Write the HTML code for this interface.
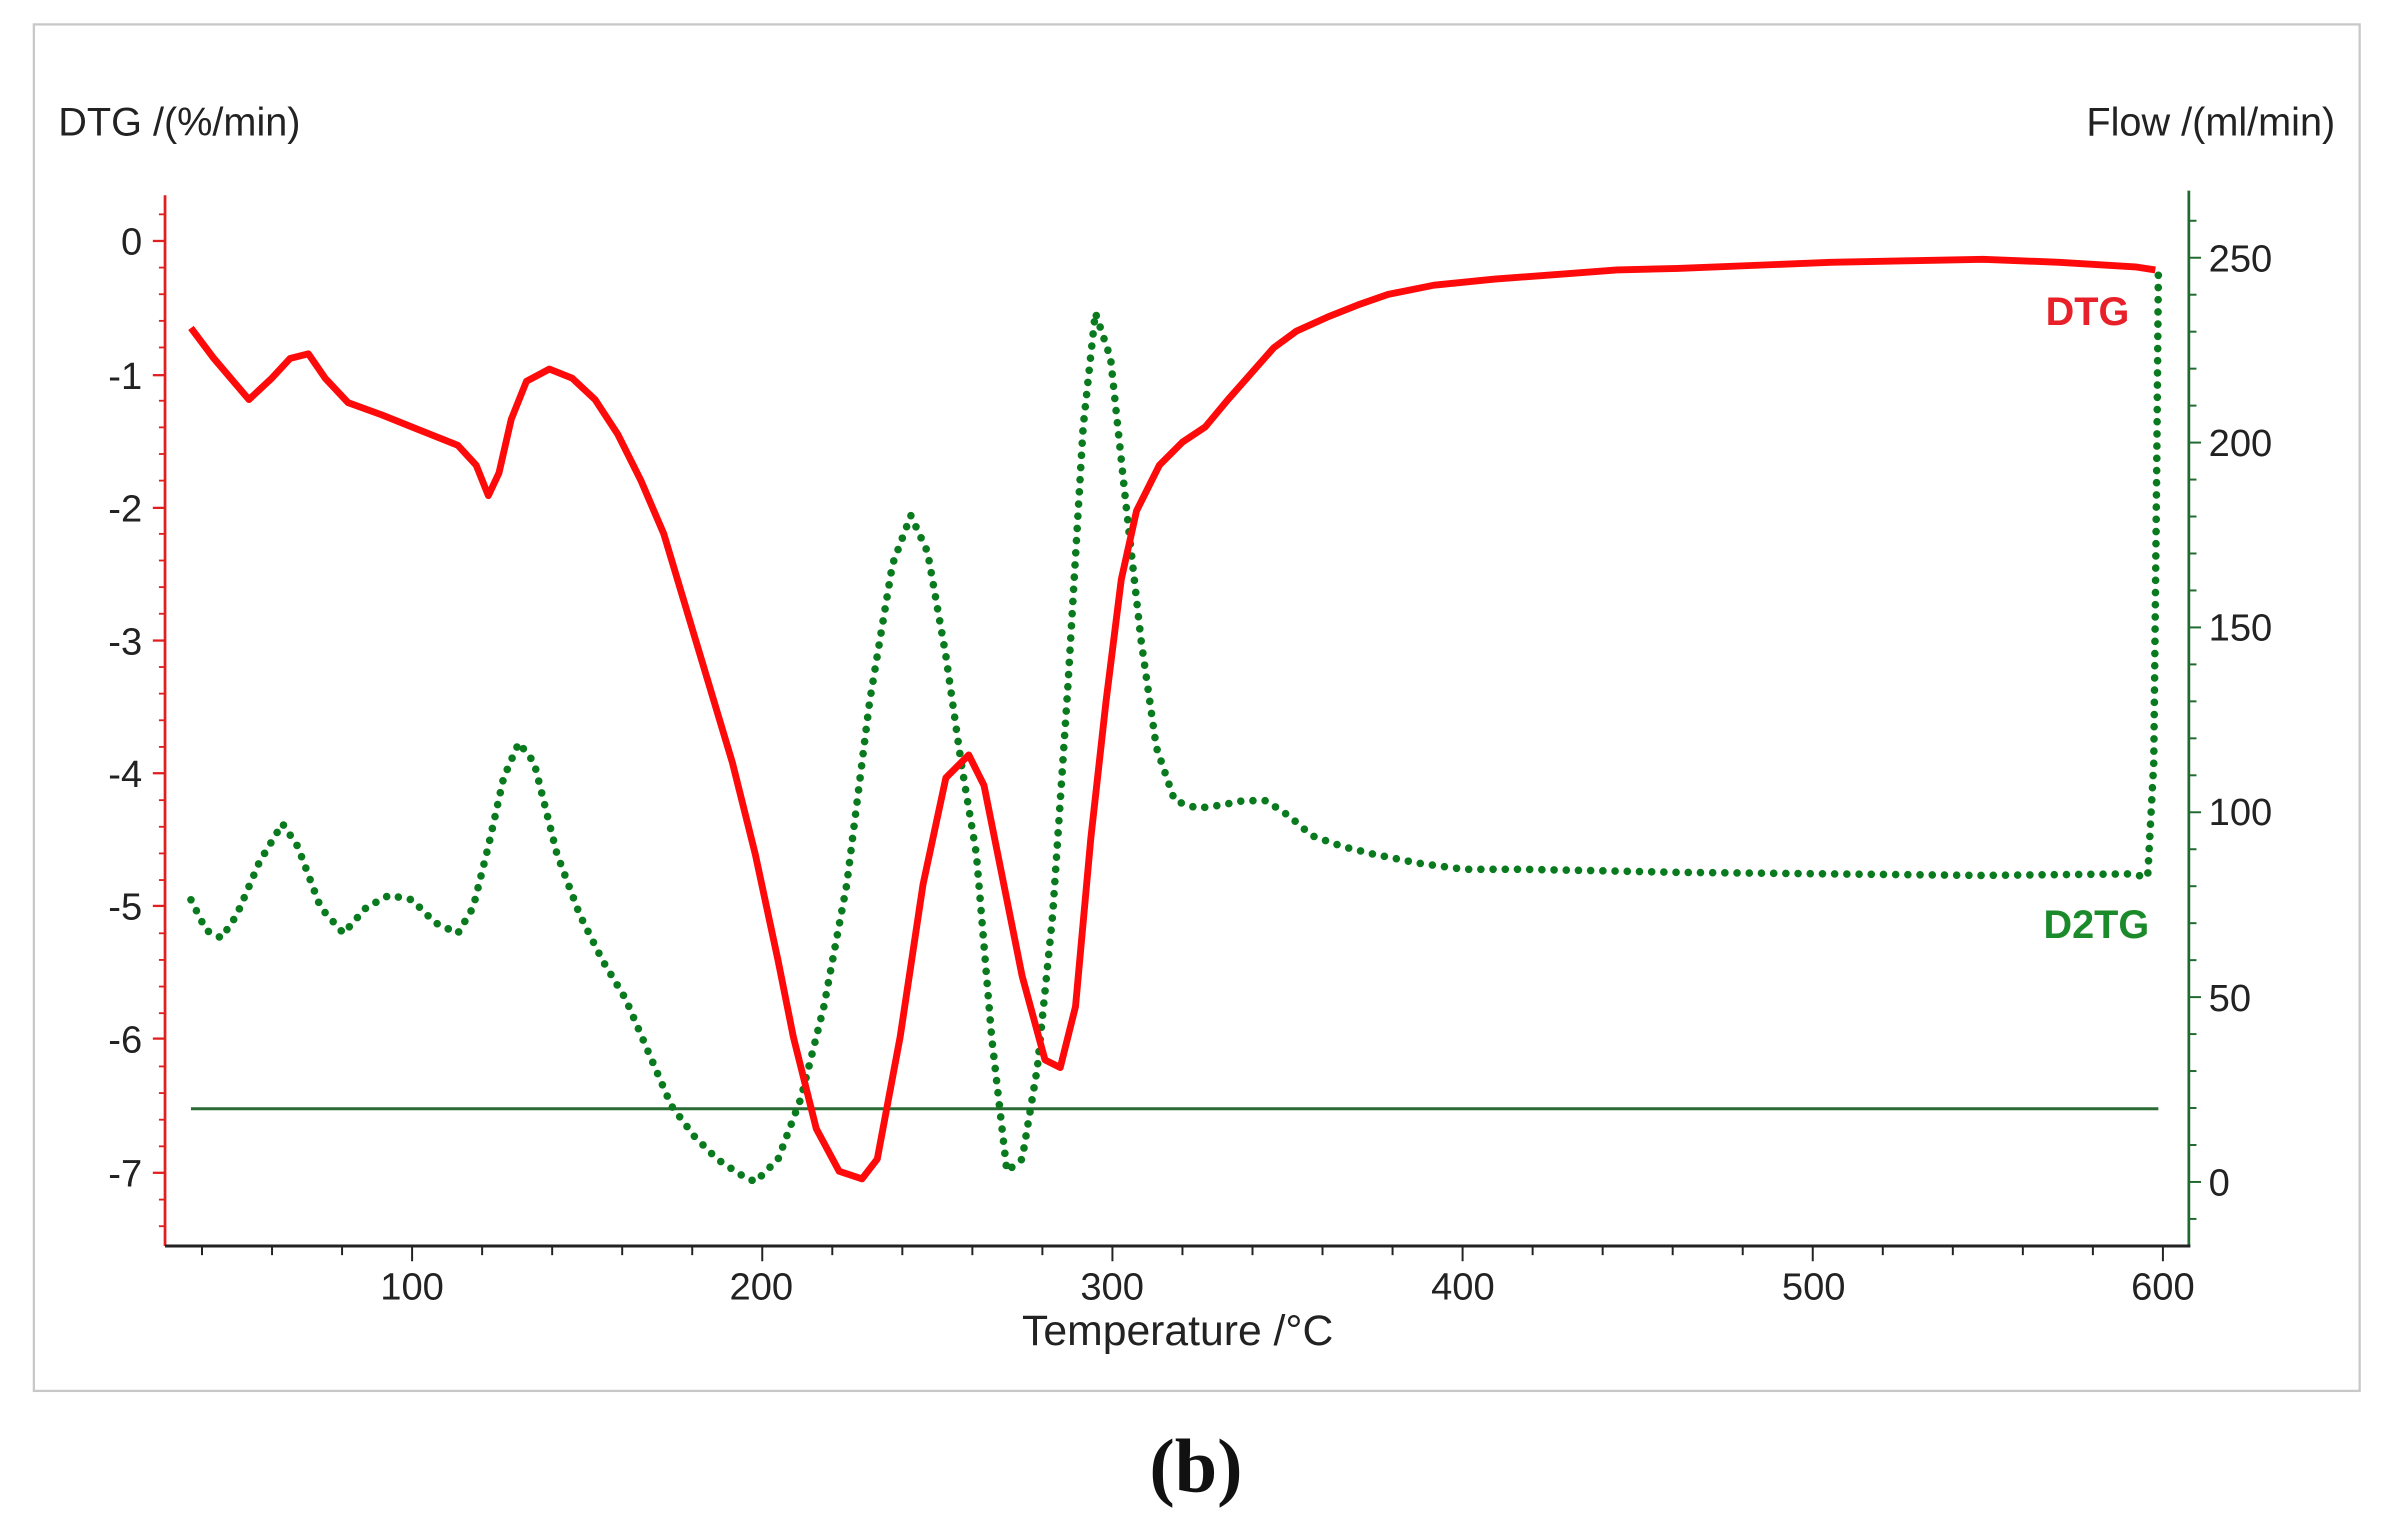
<!DOCTYPE html>
<html><head><style>
html,body{margin:0;padding:0;background:#fff;}
svg{display:block;}
text{font-family:"Liberation Sans",Arial,sans-serif;}
</style></head><body>
<svg width="2392" height="1519" viewBox="0 0 1568 996" xmlns="http://www.w3.org/2000/svg">
<rect x="0" y="0" width="1568" height="996" fill="#fff"/>
<rect x="22" y="16" width="1525" height="896" fill="none" stroke="#c8c8c8" stroke-width="1.5"/>
<text x="38" y="89" font-size="26" fill="#222">DTG /(%/min)</text>
<text x="1531" y="89" font-size="26" fill="#222" text-anchor="end">Flow /(ml/min)</text>
<text x="772" y="882" font-size="28" fill="#222" text-anchor="middle">Temperature /°C</text>
<text x="784" y="978" font-size="50" font-weight="bold" fill="#111" text-anchor="middle" style="font-family:'Liberation Serif',serif">(b)</text>
<line x1="108" y1="128" x2="108" y2="817" stroke="#e02020" stroke-width="1.8"/>
<g stroke="#e02020" stroke-width="1.5">
<line x1="100" y1="158" x2="108" y2="158"/><line x1="100" y1="246" x2="108" y2="246"/><line x1="100" y1="333" x2="108" y2="333"/><line x1="100" y1="420" x2="108" y2="420"/><line x1="100" y1="507" x2="108" y2="507"/><line x1="100" y1="594" x2="108" y2="594"/><line x1="100" y1="681" x2="108" y2="681"/><line x1="100" y1="769" x2="108" y2="769"/>
</g>
<g id="lm" stroke="#e02020" stroke-width="1.2"></g>
<g font-size="25" fill="#222" text-anchor="end">
<text x="93" y="167">0</text><text x="93" y="255">-1</text><text x="93" y="342">-2</text><text x="93" y="429">-3</text><text x="93" y="516">-4</text><text x="93" y="603">-5</text><text x="93" y="690">-6</text><text x="93" y="778">-7</text>
</g>
<line x1="1435" y1="125" x2="1435" y2="817" stroke="#1f6b2f" stroke-width="1.8"/>
<g id="rm" stroke="#1f6b2f" stroke-width="1.3"></g>
<g font-size="25" fill="#222">
<text x="1448" y="178">250</text><text x="1448" y="299">200</text><text x="1448" y="420">150</text><text x="1448" y="541">100</text><text x="1448" y="663">50</text><text x="1448" y="784">0</text>
</g>
<line x1="108" y1="817" x2="1436" y2="817" stroke="#222" stroke-width="2"/>
<g id="bm" stroke="#222" stroke-width="1.3"></g>
<g font-size="25" fill="#222" text-anchor="middle">
<text x="270" y="852">100</text><text x="499" y="852">200</text><text x="729" y="852">300</text><text x="959" y="852">400</text><text x="1189" y="852">500</text><text x="1418" y="852">600</text>
</g>
<line x1="125" y1="727" x2="1415" y2="727" stroke="#2a6b35" stroke-width="2"/>
<path fill="none" stroke="#0a7a1e" stroke-width="5" stroke-linecap="round" stroke-linejoin="round" stroke-dasharray="0 8" d="M125,590 L135,610 L145,615 L155,600 L170,565 L185,540 L195,555 L210,595 L225,612 L240,595 L255,587 L270,590 L285,605 L300,612 L310,595 L320,555 L330,510 L340,487 L350,500 L365,560 L380,600 L395,630 L410,655 L425,690 L440,725 L455,745 L470,760 L485,770 L495,775 L510,760 L525,720 L540,660 L555,580 L570,460 L585,370 L597,338 L608,362 L620,430 L630,500 L640,560 L650,680 L660,768 L670,760 L680,700 L690,600 L700,450 L710,280 L718,205 L728,235 L738,330 L748,420 L758,490 L770,525 L785,530 L800,528 L815,525 L830,525 L845,535 L860,548 L880,555 L900,560 L930,566 L960,570 L1000,570 L1100,572 L1200,573 L1300,574 L1395,573 L1408,575 L1412,500 L1414,300 L1415,180"/>
<path fill="none" stroke="#ff0a0a" stroke-width="4.5" stroke-linejoin="round" d="M125,215 L140,235 L163,262 L178,248 L190,235 L202,232 L213,248 L228,264 L250,272 L270,280 L285,286 L300,292 L312,305 L320,325 L327,310 L335,275 L345,250 L360,242 L375,248 L390,262 L405,285 L420,315 L435,350 L450,400 L465,450 L480,500 L495,560 L510,630 L520,680 L535,740 L550,768 L565,773 L575,760 L590,680 L605,580 L620,510 L635,495 L645,515 L655,565 L670,640 L685,695 L695,700 L705,660 L715,550 L725,460 L735,380 L745,335 L760,305 L775,290 L790,280 L805,262 L820,245 L835,228 L850,217 L870,208 L890,200 L910,193 L940,187 L980,183 L1020,180 L1060,177 L1100,176 L1150,174 L1200,172 L1250,171 L1300,170 L1350,172 L1400,175 L1413,177"/>
<text x="1396" y="213" font-size="26" font-weight="bold" fill="#e8202a" text-anchor="end">DTG</text>
<text x="1409" y="615" font-size="26" font-weight="bold" fill="#1a8a2a" text-anchor="end">D2TG</text>
<script>
var ns="http://www.w3.org/2000/svg";
function L(g,x1,y1,x2,y2){var l=document.createElementNS(ns,"line");l.setAttribute("x1",x1);l.setAttribute("y1",y1);l.setAttribute("x2",x2);l.setAttribute("y2",y2);document.getElementById(g).appendChild(l);}
for(var i=-1;i<=38;i++){var y=158+i*87.3/5;if(y>130&&y<815&&i%5!=0)L("lm",104,y,108,y);}
for(var v=-10;v<=270;v+=10){var y=775-v*121.2/50;if(y>127&&y<815)L("rm",1435,y,v%50==0?1443:1440,y);}
for(var t=40;t<=600;t+=20){var x=40.4+t*2.296;L("bm",x,817,x,t%100==0?827:823);}
</script>
</svg>
</body></html>
